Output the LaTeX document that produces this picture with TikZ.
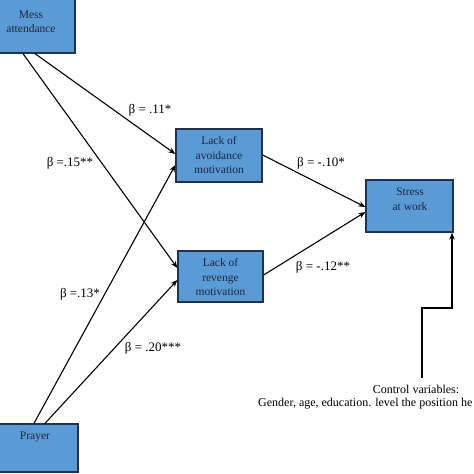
\documentclass[tikz,border=0pt]{standalone}
\usepackage{fontspec}
\setmainfont{Liberation Serif}
\usetikzlibrary{arrows.meta,calc}
\definecolor{boxfill}{HTML}{5B9BD5}
\definecolor{boxline}{HTML}{1F3350}
\definecolor{boxtext}{HTML}{1A2640}
\begin{document}
\begin{tikzpicture}[x=1pt,y=-1pt,
  box/.style={draw=boxline,fill=boxfill,line width=1.3pt,inner sep=0pt},
  btext/.style={text=boxtext,align=center,font=\fontsize{11.5}{14.5}\selectfont,inner sep=0pt},
  coef/.style={text=black,font=\fontsize{13}{15}\selectfont,inner sep=0pt},
  ctext/.style={text=black,font=\fontsize{12}{14}\selectfont,inner sep=0pt},
  conn/.style={line width=1.1pt,-{Stealth[length=7pt,width=5.5pt]}}]
\useasboundingbox (0,0) rectangle (474,474);
% boxes
\node[box,minimum width=85pt,minimum height=58pt] (mess) at (32.5,24) {};
\node[box,minimum width=86pt,minimum height=53pt] (avoid) at (219,155.5) {};
\node[box,minimum width=85pt,minimum height=51pt] (reven) at (220.5,276.5) {};
\node[box,minimum width=87pt,minimum height=52pt] (stress) at (409.5,206) {};
\node[box,minimum width=88pt,minimum height=48pt] (prayer) at (34,448) {};
% box texts
\node[btext] (messT) at (31,22) {Mess\\attendance};
\node[btext] (avoidT) at (219,155.5) {Lack of\\avoidance\\motivation};
\node[btext] (revenT) at (220.5,277.5) {Lack of\\revenge\\motivation};
\node[btext] (stressT) at (410,199) {Stress\\at work};
\node[btext] (prayerT) at (35,437) {Prayer};
% connectors
\draw[conn] ([xshift=2.5pt]mess.south) -- ([yshift=1.5pt]avoid.west);
\draw[conn] ([xshift=-9.5pt]mess.south) -- ([yshift=8.5pt]reven.west);
\draw[conn] (prayer.north) -- ([yshift=-9.5pt]avoid.west);
\draw[conn] ([xshift=11pt]prayer.north) -- ([yshift=-3.5pt]reven.west);
\draw[conn] ([yshift=0.5pt]avoid.east) -- ([yshift=-1pt]stress.west);
\draw[conn] ([yshift=1.5pt]reven.east) -- ([yshift=-6pt]stress.west);
% control variables
\coordinate (ctrl) at (422,378);
\coordinate (bend) at (452,308);
\draw[conn] (ctrl) |- (bend) -- (bend |- stress.south);
\node[ctext,anchor=center] (ctrlA) at (416,389) {Control variables:};
\node[ctext,anchor=east] (ctrlB) at (472.5,404) {Gender, age, education. level the position he};
% coefficients
\node[coef] (b1) at (150,110) {β = .11*};
\node[coef] (b2) at (70,163) {β =.15**};
\node[coef] (b3) at (321,163) {β = -.10*};
\node[coef] (b4) at (323,267) {β = -.12**};
\node[coef] (b5) at (80,294) {β =.13*};
\node[coef] (b6) at (153,348) {β = .20***};
\end{tikzpicture}
\end{document}
